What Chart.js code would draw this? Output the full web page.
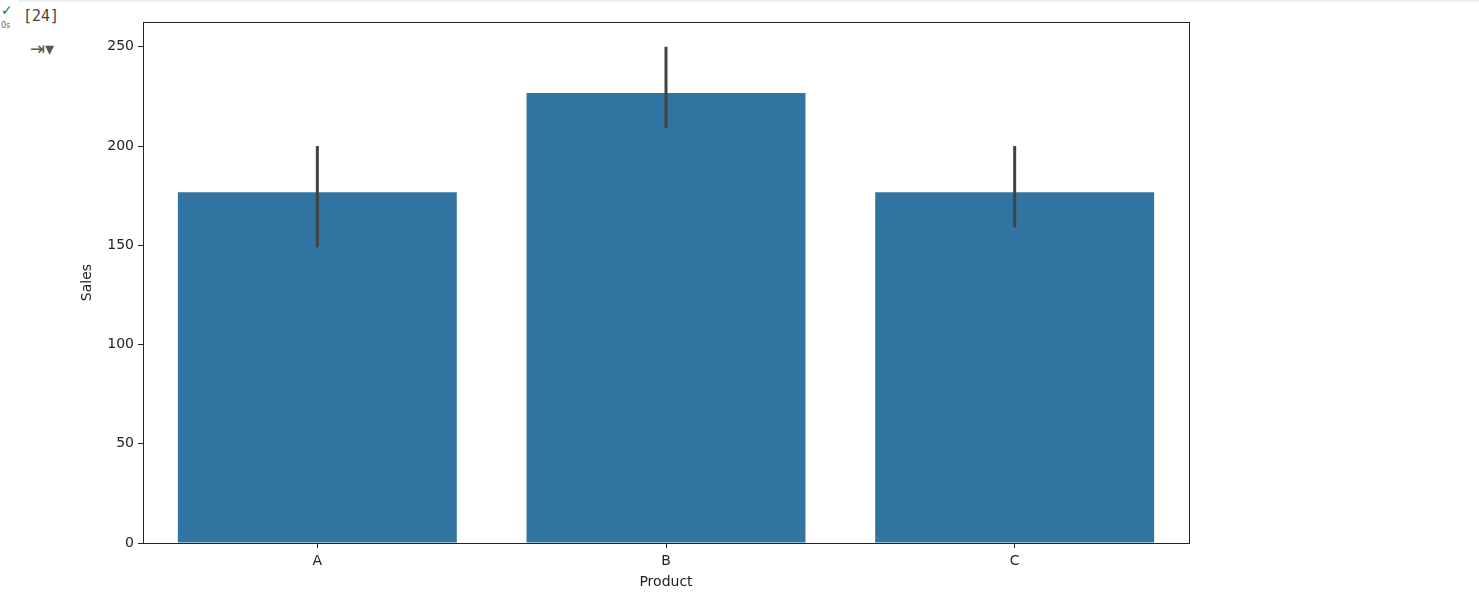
<!DOCTYPE html>
<html>
<head>
<meta charset="utf-8">
<script src="https://cdn.jsdelivr.net/npm/chart.js@4"></script>
<style>
  body { margin: 0; background: #fff; width: 1479px; height: 602px; overflow: hidden; position: relative; font-family: "DejaVu Sans", sans-serif; }
  .topline { position: absolute; left: 18px; top: 0; width: 1461px; height: 2px; background: #f1f1f1; }
  .check { position: absolute; left: 1px; top: 2px; color: #2e7d32; font-size: 14px; }
  .secs { position: absolute; left: 1px; top: 21px; color: #666; font-size: 8px; }
  .count { position: absolute; left: 23px; top: 7px; color: #444; font-family: "DejaVu Sans Mono", monospace; font-size: 15px; }
  .icon { position: absolute; left: 30px; top: 38px; color: #555; font-size: 18px; font-family: "DejaVu Sans", sans-serif; }
  #wrap { position: absolute; left: 60px; top: 0; width: 1140px; height: 602px; }
</style>
</head>
<body>
<div class="topline"></div>
<div class="check">✓</div>
<div class="secs">0s</div>
<div class="count">[24]</div>
<div class="icon">⇥▾</div>
<div id="wrap"><canvas id="myChart"></canvas></div>
<script>
// Data
const products = ["A", "B", "C"];
const sales = [176.7, 226.7, 176.7];
const errLow = [149, 209, 159];
const errHigh = [200, 250, 200];
const yTicks = [0, 50, 100, 150, 200, 250];

const textColor = "#222";
const font = { family: "DejaVu Sans", size: 14 };

// error bars + full frame
const errorBars = {
  id: "errorBars",
  afterDatasetsDraw(chart) {
    const ctx = chart.ctx;
    const x = chart.scales.x, y = chart.scales.y;
    ctx.save();
    ctx.strokeStyle = "#424242";
    ctx.lineWidth = 3;
    products.forEach((p, i) => {
      const px = x.getPixelForValue(i);
      ctx.beginPath();
      ctx.moveTo(px, y.getPixelForValue(errLow[i]));
      ctx.lineTo(px, y.getPixelForValue(errHigh[i]));
      ctx.stroke();
    });
    const a = chart.chartArea;
    ctx.strokeStyle = textColor;
    ctx.lineWidth = 1;
    ctx.strokeRect(Math.round(a.left) + 0.5, Math.round(a.top) + 0.5, Math.round(a.right - a.left), Math.round(a.bottom - a.top));
    ctx.restore();
  }
};

const data = {
  labels: products,
  datasets: [
    {
      label: "Sales",
      data: sales,
      backgroundColor: "#3274a1",
      borderWidth: 0,
      barPercentage: 0.8,
      categoryPercentage: 1.0,
    },
  ],
};

const config = {
  type: "bar",
  data: data,
  options: {
    responsive: true,
    maintainAspectRatio: false,
    animation: false,
    layout: { padding: { top: 22, right: 11, left: 0, bottom: 0 } },
    plugins: { legend: { display: false }, tooltip: { enabled: false } },
    scales: {
      x: {
        afterFit(s) { s.height = 59; },
        grid: { display: true, drawOnChartArea: false, drawTicks: true, tickLength: 5, color: textColor, offset: false },
        border: { display: true, color: textColor },
        ticks: { color: textColor, font: font, padding: 5 },
        title: { display: true, text: "Product", color: textColor, font: font, padding: { top: 0, bottom: 11 } },
      },
      y: {
        min: 0,
        max: 262.5,
        afterFit(s) { s.width = 83; },
        afterBuildTicks(s) { s.ticks = yTicks.map(v => ({ value: v })); },
        grid: { display: true, drawOnChartArea: false, drawTicks: true, tickLength: 5, color: textColor },
        border: { display: true, color: textColor },
        ticks: { color: textColor, font: font, padding: 4, includeBounds: false },
        title: { display: true, text: "Sales", color: textColor, font: font, padding: { top: 19, bottom: 0 } },
      },
    },
  },
  plugins: [errorBars],
};

let myChart = new Chart(document.getElementById("myChart").getContext("2d"), config);
</script>
</body>
</html>
